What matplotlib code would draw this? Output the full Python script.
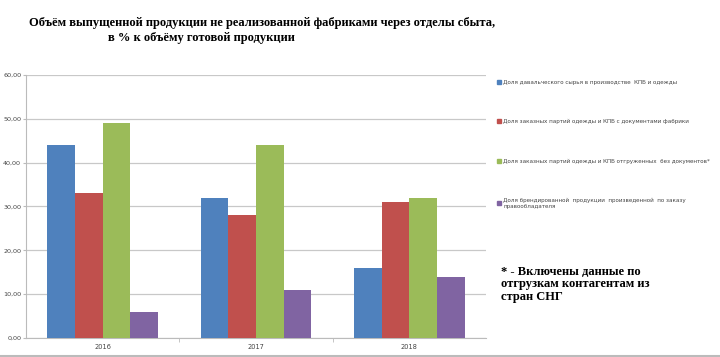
import numpy as np
import matplotlib
matplotlib.use("Agg")
import matplotlib.pyplot as plt
from matplotlib.lines import Line2D

years = ["2016", "2017", "2018"]
series_names = [
    "Доля давальческого сырья в производстве  КПБ и одежды",
    "Доля заказных партий одежды и КПБ с документами фабрики",
    "Доля заказных партий одежды и КПБ отгруженных  без документов*",
    "Доля брендированной  продукции  произведенной  по заказу\nправообладателя",
]
davalch = [44, 32, 16]
s_dokumentami = [33, 28, 31]
bez_dokumentov = [49, 44, 32]
brend = [6, 11, 14]
colors = ["#4F81BD", "#C0504D", "#9BBB59", "#8064A2"]

title_line1 = "Объём выпущенной продукции не реализованной фабриками через отделы сбыта,"
title_line2 = "в % к объёму готовой продукции"
footnote = "* - Включены данные по\nотгрузкам контагентам из\nстран СНГ"


def main():
    fig = plt.figure(figsize=(7.2, 3.57), dpi=100)
    ax = fig.add_axes([26 / 720, 1 - 338 / 357, (486 - 26) / 720, (338 - 75) / 357])

    values = [davalch, s_dokumentami, bez_dokumentov, brend]
    x = np.arange(len(years))
    width = 0.18
    for i, vals in enumerate(values):
        ax.bar(x + (i - 1.5) * width, vals, width=width, color=colors[i],
               edgecolor="none", zorder=3)

    ax.set_xlim(-0.5, 2.5)
    ax.set_ylim(0, 60)
    ax.set_yticks(np.arange(0, 61, 10))
    ax.set_yticklabels([f"{v:.2f}".replace(".", ",") for v in np.arange(0, 61, 10)])
    ax.grid(axis="y", color="#c8c8c8", linewidth=0.9, zorder=0)

    ax.set_xticks(x)
    ax.set_xticklabels(years)
    ax.set_xticks([0.5, 1.5], minor=True)
    ax.tick_params(axis="x", which="major", length=0, labelsize=4.8,
                   labelcolor="#444444", pad=4)
    ax.tick_params(axis="x", which="minor", length=3, color="#bbbbbb")
    ax.tick_params(axis="y", length=2.5, color="#bbbbbb", labelsize=4.6,
                   labelcolor="#444444", pad=1)

    for side in ["top", "right"]:
        ax.spines[side].set_visible(False)
    ax.spines["left"].set_color("#bbbbbb")
    ax.spines["bottom"].set_color("#bbbbbb")

    # заголовок
    fig.text(262 / 720, 1 - 23 / 357, title_line1, ha="center", va="center",
             fontsize=9, fontweight="bold", family="Liberation Serif")
    fig.text(201 / 720, 1 - 38 / 357, title_line2, ha="center", va="center",
             fontsize=9, fontweight="bold", family="Liberation Serif")

    # легенда
    handles = [Line2D([], [], marker="s", linestyle="none", markersize=3,
                      color=c) for c in colors]
    fig.legend(handles, series_names, loc="upper left",
               bbox_to_anchor=(492 / 720, 1 - 75 / 357), frameon=False,
               fontsize=4.1, labelspacing=6.0, handlelength=0.6,
               handletextpad=0.5, labelcolor="#444444")

    fig.text(501 / 720, 1 - 266 / 357, footnote, ha="left", va="top",
             fontsize=9, fontweight="bold", family="Liberation Serif",
             linespacing=1.05)

    # нижняя линия рамки
    fig.add_artist(Line2D([0, 1], [1.5 / 357, 1.5 / 357], color="#bbbbbb",
                          linewidth=1.5, transform=fig.transFigure))

    fig.savefig("out.png", dpi=100)


if __name__ == "__main__":
    main()
